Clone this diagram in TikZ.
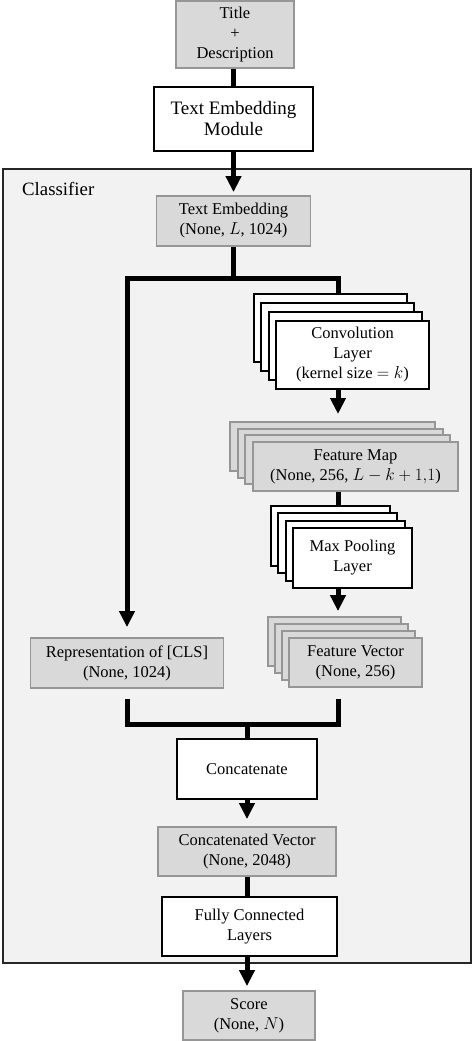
\documentclass[tikz,border=0pt]{standalone}
\usepackage{fontspec}
\setmainfont{Liberation Serif}
\usepackage{tikz}
\usetikzlibrary{arrows.meta}
\usetikzlibrary{calc}
\definecolor{boxgray}{RGB}{217,217,217}
\definecolor{boxline}{RGB}{150,150,150}
\definecolor{panelgray}{RGB}{242,242,242}

\tikzset{
	txt/.style={font=\fontsize{16.5}{20}\selectfont, align=center, inner sep=0pt},
	graybox/.style={txt, draw=boxline, fill=boxgray, line width=1.8pt},
	whitebox/.style={txt, draw=black, fill=white, line width=2pt},
	convbox/.style={whitebox, minimum width=153pt, minimum height=68pt},
	fmbox/.style={graybox, minimum width=205pt, minimum height=49pt},
	poolbox/.style={whitebox, minimum width=119pt, minimum height=60pt},
	fvbox/.style={graybox, minimum width=133pt, minimum height=49pt},
	conn/.style={line width=5pt},
	arr/.style={conn, -{Triangle[width=15pt,length=16pt]}, shorten >=5pt},
}

\begin{document}
\begin{tikzpicture}[x=1pt, y=-1pt]
		\useasboundingbox (0,0) rectangle (474,1041);
		% classifier panel
		\node[draw=black!85, fill=panelgray, line width=2.5pt, minimum width=468pt, minimum height=794pt, inner sep=0pt] (panel) at (237,566) {};
		\node[anchor=base west, font=\fontsize{18.8}{22}\selectfont, inner sep=0pt] (panelname) at (22,195) {Classifier};

		\node[graybox, minimum width=118pt, minimum height=67pt] (title) at (235,34.5) {Title\\+\\Description};
		\node[whitebox, font=\fontsize{19}{21}\selectfont, minimum width=159pt, minimum height=64pt] (tem) at (233.5,119) {Text Embedding\\Module};
		\node[graybox, minimum width=154pt, minimum height=50pt] (te) at (233.5,221) {Text Embedding\\(None, $L$, 1024)};

		% stacked layers
		\foreach \i in {3,2,1}
			\node[convbox] (conv\i) at ($(352.5,355)+(-7.3*\i,-9*\i)$) {};
		\node[convbox] (conv) at (352.5,355) {Convolution\\Layer\\(kernel size $=k$)};
		\foreach \i in {3,2,1}
			\node[fmbox] (fm\i) at ($(355.5,466.5)+(-7.7*\i,-6.7*\i)$) {};
		\node[fmbox] (fm) at (355.5,466.5) {Feature Map\\(None, 256, $L-k+1{,}1$)};
		\foreach \i in {3,2,1}
			\node[poolbox] (mp\i) at ($(352.5,558)+(-7.3*\i,-7.3*\i)$) {};
		\node[poolbox] (mp) at (352.5,558) {Max Pooling\\Layer};
		\foreach \i in {3,2,1}
			\node[fvbox] (fv\i) at ($(355.5,662.5)+(-7*\i,-7*\i)$) {};
		\node[fvbox] (fv) at (355.5,662.5) {Feature Vector\\(None, 256)};

		\node[graybox, minimum width=193pt, minimum height=50pt] (rep) at (127,663) {Representation of [CLS]\\(None, 1024)};
		\node[whitebox, minimum width=140pt, minimum height=60pt] (concat) at (247,769) {Concatenate};
		\node[graybox, minimum width=178pt, minimum height=49pt] (cv) at (247,851.5) {Concatenated Vector\\(None, 2048)};
		\node[whitebox, minimum width=175pt, minimum height=59pt] (fc) at (249.5,926.5) {Fully Connected\\Layers};
		\node[graybox, minimum width=132pt, minimum height=49pt] (score) at (249,1015.5) {Score\\(None, $N$)};

		\coordinate (colx) at (338,0);
		\coordinate (split) at (233.5,278);
		\coordinate (merge) at (247,724);

		%\path[->] (title) edge (tem);
		\draw[conn] (title.south -| tem) -- (tem.north);
		\draw[arr, shorten >=3pt] (tem.south) -- (tem.south |- te.north);
		\draw[conn] (te.south) -- (split);
		\draw[arr, shorten >=10pt] (split) -| (rep.north);
		\draw[conn] (split) -| (conv3.north -| colx);
		\draw[arr, shorten >=7pt] (conv.south -| colx) -- (fm3.north -| colx);
		\draw[conn] (fm.south -| colx) -- (mp3.north -| colx);
		\draw[arr] (mp.south -| colx) -- (fv3.north -| colx);
		\draw[conn] ($(rep.south)+(0,10)$) |- (merge) -| ($(fv.south -| colx)+(0,11)$);
		\draw[conn] (merge) -- (concat.north);
		\draw[arr, shorten >=7pt] (concat.south) -- (concat.south |- cv.north);
		\draw[conn] (cv.south) -- (cv.south |- fc.north);
		\draw[arr, shorten >=4pt] (fc.south -| merge) -- (score.north -| merge);
\end{tikzpicture}
\end{document}
